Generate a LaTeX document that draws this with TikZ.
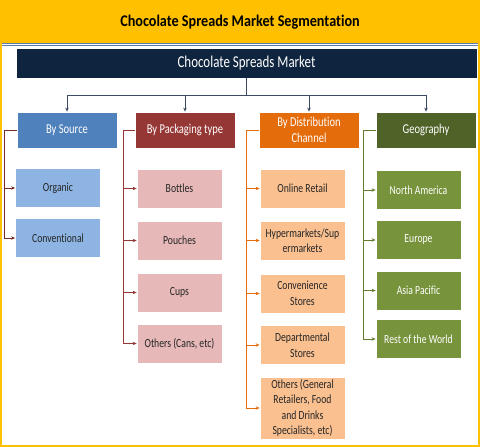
\documentclass[tikz,border=0pt]{standalone}
\usepackage{fontspec}
\setmainfont{Carlito}[Ligatures=NoCommon]
\newfontfamily\bodyfont{Carlito}[FakeStretch=0.78, Ligatures=NoCommon]
\newfontfamily\headfont{Carlito}[FakeStretch=0.87, Ligatures=NoCommon]
\usepackage{tikz}
\usetikzlibrary{arrows.meta,positioning,calc}
\definecolor{cGold}{HTML}{FFC000}
\definecolor{cRule}{HTML}{5B7BA6}
\definecolor{cNavy}{HTML}{0F243E}
\definecolor{cSrc}{HTML}{4F81BD}
\definecolor{cSrcL}{HTML}{8DB4E2}
\definecolor{cPkg}{HTML}{953735}
\definecolor{cPkgL}{HTML}{E6B9B8}
\definecolor{cDst}{HTML}{E46C0A}
\definecolor{cDstL}{HTML}{FAC090}
\definecolor{cGeo}{HTML}{4F6228}
\definecolor{cGeoL}{HTML}{77933C}
\definecolor{cInk}{HTML}{262626}
\definecolor{cLink}{HTML}{3A4A60}
\tikzset{
  box/.style    = {align=center, inner sep=1pt, draw=white, line width=0.8pt},
  cat/.style    = {box, minimum width=100pt, minimum height=36pt, text=white,
                   font=\bodyfont\fontsize{13.5}{16}\selectfont},
  sub/.style    = {box, minimum width=85pt, minimum height=39pt, text=cInk,
                   font=\bodyfont\fontsize{12.4}{15.5}\selectfont},
  flow/.style   = {-{Stealth[length=4pt,width=3.5pt]}, line width=0.9pt},
  srcflow/.style = {flow, draw=cPkg!80!black},
  pkgflow/.style = {flow, draw=cPkg},
  dstflow/.style = {flow, draw=cDst},
  geoflow/.style = {flow, draw=cGeoL!85!black},
}

\begin{document}
\begin{tikzpicture}[x=1pt, y=-1pt]
  \useasboundingbox (0,0) rectangle (480,447);
  % frame and heading band
  \fill[cGold] (0,0) rectangle (480,43);
  \draw[cRule, line width=0.8pt] (0,43.6) -- (480,43.6);
  \draw[cRule, line width=0.8pt] (0,45.6) -- (480,45.6);
  \draw[cGold, line width=2pt] (1,1) rectangle (479,446);
  \node[font=\headfont\fontsize{16.3}{18}\selectfont\bfseries] (title) at (240,22)
    {Chocolate Spreads Market Segmentation};
  \node[box, fill=cNavy, text=white, minimum width=461pt, minimum height=30pt,
        font=\bodyfont\fontsize{16.6}{18}\selectfont] (mkt) at (246.5,63)
    {Chocolate Spreads Market};

  % segment headers
  \node[cat, fill=cSrc] (src) at (67,130) {By Source};
  \node[cat, fill=cPkg] (pkg) at (185,130) {By Packaging type};
  \node[cat, fill=cDst] (dst) at (309,130) {By Distribution\\Channel};
  \node[cat, fill=cGeo] (geo) at (426,130) {Geography};

  % by source
  \node[sub, fill=cSrcL] (org) at (58,188) {Organic};
  \node[sub, fill=cSrcL] (conv) at (58,238) {Conventional};
  % by packaging type
  \node[sub, fill=cPkgL] (bot) at (179.5,188.5) {Bottles};
  \node[sub, fill=cPkgL] (pou) at (179.5,240.5) {Pouches};
  \node[sub, fill=cPkgL] (cup) at (179.5,292.5) {Cups};
  \node[sub, fill=cPkgL] (cans) at (179.5,343.5) {Others (Cans, etc)};
  % by distribution channel
  \node[sub, fill=cDstL] (onl) at (302.5,188.5) {Online Retail};
  \node[sub, fill=cDstL] (hyp) at (302.5,240.5) {Hypermarkets/Sup\\ermarkets};
  \node[sub, fill=cDstL] (conv2) at (302.5,293.5) {Convenience\\Stores};
  \node[sub, fill=cDstL] (dep) at (302.5,345) {Departmental\\Stores};
  \node[sub, fill=cDstL, minimum height=62pt] (oth) at (302.5,408)
    {Others (General\\Retailers, Food\\and Drinks\\Specialists, etc)};
  % geography
  \node[sub, fill=cGeoL, text=white] (nam) at (418.5,190) {North America};
  \node[sub, fill=cGeoL, text=white] (eur) at (418.5,240) {Europe};
  \node[sub, fill=cGeoL, text=white] (apac) at (418.5,290.5) {Asia Pacific};
  \node[sub, fill=cGeoL, text=white] (row) at (418.5,339) {Rest of the World};

  % links
  \foreach \c in {src,pkg,dst,geo}
    \draw[flow, draw=cLink] (mkt.south) -- ++(0,17) -| (\c.north);
  \foreach \c in {org,conv}
    \draw[srcflow] (src.west) -- ++(-12,0) |- (\c.west);
  \foreach \c in {bot,pou,cup,cans}
    \draw[pkgflow] (pkg.west) -- ++(-11,0) |- (\c.west);
  \foreach \c in {onl,hyp,conv2,dep,oth}
    \draw[dstflow] (dst.west) -- ++(-12,0) |- (\c.west);
  \foreach \c in {nam,eur,apac,row}
    \draw[geoflow] (geo.west) -- ++(-12,0) |- (\c.west);
\end{tikzpicture}
\end{document}
